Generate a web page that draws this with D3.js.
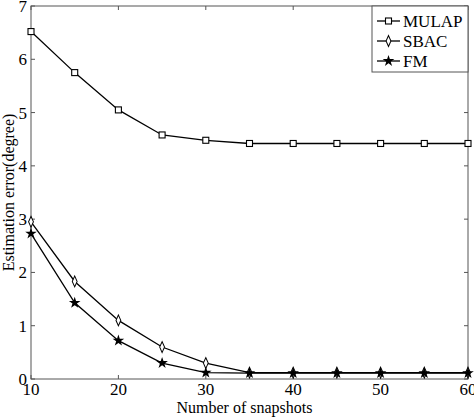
<!DOCTYPE html>
<html><head><meta charset="utf-8">
<script src="https://cdn.jsdelivr.net/npm/d3@7"></script>
<style>body{margin:0;background:#fff}</style>
</head><body><div id="chart"></div>
<script>
const snapshots = [10,15,20,25,30,35,40,45,50,55,60];
const mulap = [6.52,5.75,5.05,4.58,4.48,4.42,4.42,4.42,4.42,4.42,4.42];
const sbac  = [2.95,1.83,1.10,0.60,0.30,0.12,0.12,0.12,0.12,0.12,0.12];
const fm    = [2.73,1.43,0.72,0.30,0.12,0.11,0.11,0.11,0.11,0.11,0.11];
const xTicks = [10,20,30,40,50,60];
const yTicks = [0,1,2,3,4,5,6,7];

const W = 474, H = 417;
const L = 31, R = 468, T = 6, B = 379;
const svg = d3.select("#chart").append("svg").attr("width", W).attr("height", H)
	.style("font-family", "'Liberation Serif', 'Times New Roman', serif");

const x = d3.scaleLinear().domain([10,60]).range([L,R]);
const y = d3.scaleLinear().domain([0,7]).range([B,T]);

svg.append("rect").attr("x",L).attr("y",T).attr("width",R-L).attr("height",B-T)
	.attr("fill","none").attr("stroke","#555").attr("stroke-width",1);

xTicks.forEach(t => {
	svg.append("line").attr("x1",x(t)).attr("x2",x(t)).attr("y1",B).attr("y2",B-4).attr("stroke","#555");
	svg.append("line").attr("x1",x(t)).attr("x2",x(t)).attr("y1",T).attr("y2",T+4).attr("stroke","#555");
	svg.append("text").attr("x",x(t)).attr("y",B+16).attr("text-anchor","middle")
		.attr("font-size",17).text(t);
});
yTicks.forEach(t => {
	svg.append("line").attr("x1",L).attr("x2",L+4).attr("y1",y(t)).attr("y2",y(t)).attr("stroke","#555");
	svg.append("line").attr("x1",R).attr("x2",R-4).attr("y1",y(t)).attr("y2",y(t)).attr("stroke","#555");
	svg.append("text").attr("x",L-4).attr("y",y(t)+6).attr("text-anchor","end")
		.attr("font-size",17).text(t);
});
svg.append("text").attr("x",(L+R)/2-5).attr("y",413).attr("text-anchor","middle")
	.attr("font-size",16).text("Number of snapshots");
svg.append("text").attr("transform",`translate(14,${(T+B)/2}) rotate(-90)`)
	.attr("text-anchor","middle").attr("font-size",16).text("Estimation error(degree)");

const line = d3.line().x(d => x(d[0])).y(d => y(d[1]));
const star = d3.symbol().type(d3.symbolStar).size(42);
const diamond = d3.symbol().type(d3.symbolDiamond).size(28);

function marker(g, type, cx, cy) {
	if (type == "square") {
		g.append("rect").attr("x",cx-3).attr("y",cy-3).attr("width",6).attr("height",6)
			.attr("fill","#fff").attr("stroke","#000").attr("stroke-width",1.1);
	} else if (type == "diamond") {
		g.append("path").attr("d",diamond()).attr("transform",`translate(${cx},${cy}) scale(0.85,1.1)`)
			.attr("fill","#fff").attr("stroke","#000").attr("stroke-width",1.1);
	} else {
		g.append("path").attr("d",star()).attr("transform",`translate(${cx},${cy})`).attr("fill","#000");
	}
}

const series = [
	{name:"MULAP", vals:mulap, m:"square"},
	{name:"SBAC", vals:sbac, m:"diamond"},
	{name:"FM", vals:fm, m:"star"},
];
series.forEach(s => {
	const pts = snapshots.map((d,i) => [d, s.vals[i]]);
	svg.append("path").attr("d",line(pts)).attr("fill","none").attr("stroke","#000").attr("stroke-width",1.3);
	pts.forEach(p => marker(svg, s.m, x(p[0]), y(p[1])));
});

// legend
svg.append("rect").attr("x",372).attr("y",T).attr("width",R-372).attr("height",66)
	.attr("fill","#fff").attr("stroke","#555");
series.forEach((s,i) => {
	const ly = T + 15 + i*20;
	svg.append("line").attr("x1",377).attr("x2",400).attr("y1",ly).attr("y2",ly).attr("stroke","#000").attr("stroke-width",1.3);
	marker(svg, s.m, 388.5, ly);
	svg.append("text").attr("x",403).attr("y",ly+6).attr("font-size",17).text(s.name);
});
</script></body></html>
